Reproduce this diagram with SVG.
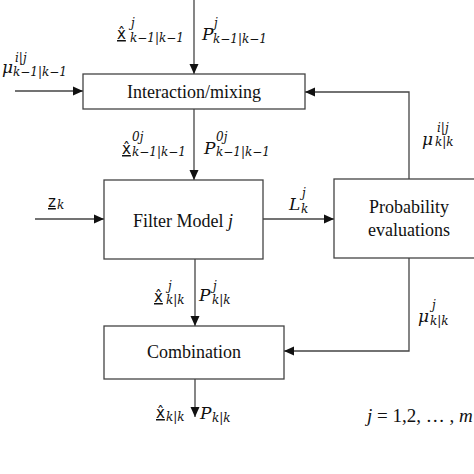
<svg xmlns="http://www.w3.org/2000/svg" width="474" height="474" viewBox="0 0 474 474">
<style>
.box{fill:#fff;stroke:#444;stroke-width:1.3}
.ln{fill:none;stroke:#444;stroke-width:1.3}
.bt{font-family:"Liberation Serif",serif;font-size:18px;fill:#111;text-anchor:middle}
.m{font-family:"DejaVu Serif",serif;font-style:italic;font-size:17px;fill:#111}
.s{font-family:"DejaVu Serif",serif;font-style:italic;font-size:12px;fill:#111}
.x{font-family:"DejaVu Sans",sans-serif;font-size:15px;fill:#111;text-decoration:underline}
</style>
<defs>
<marker id="ah" viewBox="0 0 10 10" refX="10" refY="5" markerWidth="10" markerHeight="10" markerUnits="userSpaceOnUse" orient="auto">
<path d="M0,0.5 L10,5 L0,9.5 Z" fill="#111"/>
</marker>
</defs>
<rect width="474" height="474" fill="#fff"/>
<g id="connectors">
<path class="ln" d="M194,0 V74" marker-end="url(#ah)"/>
<path class="ln" d="M15,91 H83" marker-end="url(#ah)"/>
<path class="ln" d="M194,109 V180" marker-end="url(#ah)"/>
<path class="ln" d="M35,219 H104" marker-end="url(#ah)"/>
<path class="ln" d="M263,219 H334" marker-end="url(#ah)"/>
<path class="ln" d="M409,179 V92 H305" marker-end="url(#ah)"/>
<path class="ln" d="M195,259 V326" marker-end="url(#ah)"/>
<path class="ln" d="M409,258 V351 H284" marker-end="url(#ah)"/>
<path class="ln" d="M195,379 V417" marker-end="url(#ah)"/>
</g>
<g id="interaction">
<rect class="box" x="83" y="74" width="222" height="35"/>
<text class="bt" x="194" y="97.5">Interaction/mixing</text>
</g>
<g id="filter">
<rect class="box" x="104" y="180" width="159" height="79"/>
<text class="bt" x="183" y="227">Filter Model <tspan font-style="italic">j</tspan></text>
</g>
<g id="probability">
<rect class="box" x="334" y="179" width="150" height="79"/>
<text class="bt" x="409" y="213">Probability</text>
<text class="bt" x="409" y="236">evaluations</text>
</g>
<g id="combination">
<rect class="box" x="104" y="326" width="180" height="53"/>
<text class="bt" x="194" y="358">Combination</text>
</g>
<g id="labels">
<text class="x" x="117" y="39">x̂</text>
<text class="s" x="131" y="27">j</text>
<text class="s" x="130" y="42">k−1|k−1</text>
<text class="m" x="202" y="40">P</text>
<text class="s" x="214" y="27">j</text>
<text class="s" x="213" y="43">k−1|k−1</text>
<text class="m" x="2" y="73">μ</text>
<text class="s" x="15" y="62">i|j</text>
<text class="s" x="13" y="76">k−1|k−1</text>
<text class="x" x="122" y="154">x̂</text>
<text class="s" x="132" y="141">0j</text>
<text class="s" x="132" y="156">k−1|k−1</text>
<text class="m" x="204" y="154">P</text>
<text class="s" x="216" y="141">0j</text>
<text class="s" x="216" y="156">k−1|k−1</text>
<text class="x" x="48" y="207">z</text>
<text class="s" x="57" y="209">k</text>
<text class="m" x="289" y="210">L</text>
<text class="s" x="302" y="197">j</text>
<text class="s" x="301" y="213">k</text>
<text class="m" x="422" y="145">μ</text>
<text class="s" x="437" y="132">i|j</text>
<text class="s" x="435" y="146">k|k</text>
<text class="m" x="418" y="322">μ</text>
<text class="s" x="432" y="309">j</text>
<text class="s" x="430" y="325">k|k</text>
<text class="x" x="154" y="302">x̂</text>
<text class="s" x="168" y="290">j</text>
<text class="s" x="166" y="304">k|k</text>
<text class="m" x="199" y="301">P</text>
<text class="s" x="213" y="290">j</text>
<text class="s" x="212" y="304">k|k</text>
<text class="x" x="156" y="418">x̂</text>
<text class="s" x="166" y="421">k|k</text>
<text class="m" x="200" y="419">P</text>
<text class="s" x="212" y="422">k|k</text>
<text x="367" y="422" font-family="Liberation Serif, serif" font-size="19px" fill="#111"><tspan font-style="italic">j</tspan> = 1,2, … , <tspan font-style="italic">m</tspan></text>
</g>
</svg>
